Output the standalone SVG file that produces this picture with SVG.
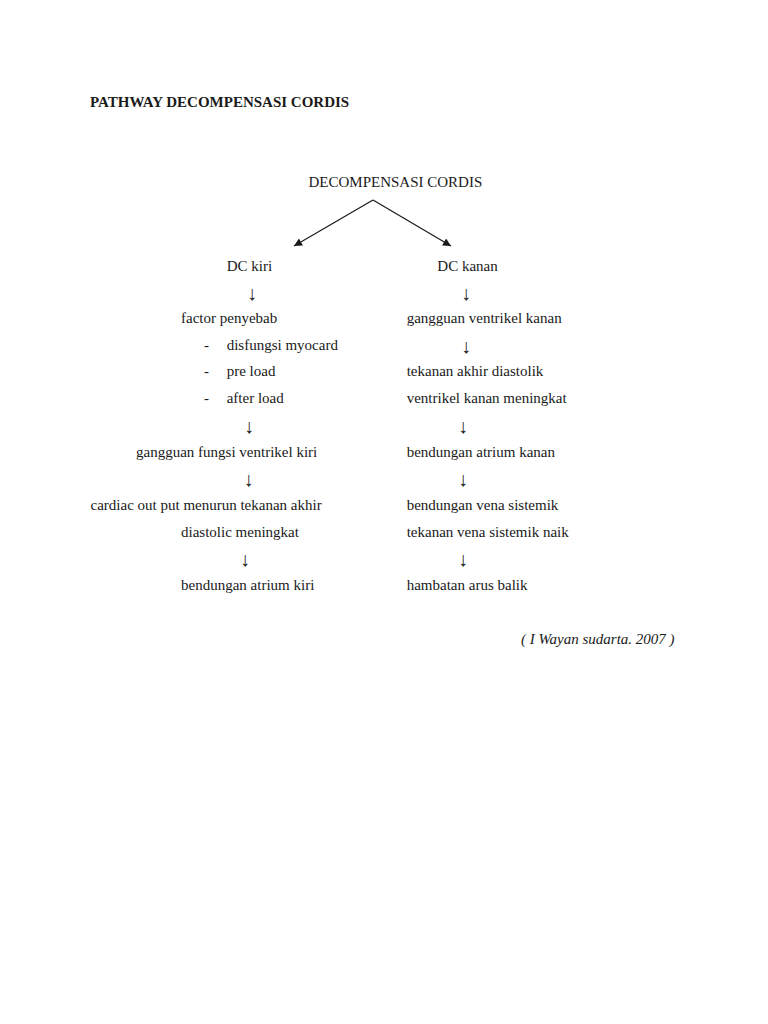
<svg xmlns="http://www.w3.org/2000/svg" width="768" height="1024" viewBox="0 0 768 1024">
<style>
text{font-family:"Liberation Serif","Times New Roman",serif;font-size:15px;fill:#1a1a1a}
.title{font-weight:bold}
.cite{font-style:italic}
.arr{text-anchor:middle;font-size:20px;fill:#222}
.conn{stroke:#1a1a1a;stroke-width:1.2;fill:none}
</style>
<defs>
<marker id="ah" viewBox="0 0 10 10" refX="10" refY="5" markerWidth="10" markerHeight="8" markerUnits="userSpaceOnUse" orient="auto">
<path d="M0,0 L10,5 L0,10 Z" fill="#1a1a1a"/>
</marker>
</defs>
<rect width="768" height="1024" fill="#fff"/>
<g id="title"><text class="title" x="90" y="107">PATHWAY DECOMPENSASI CORDIS</text></g>
<g id="root"><text x="308.5" y="187">DECOMPENSASI CORDIS</text></g>
<g id="connectors">
<line class="conn" x1="373" y1="200" x2="294" y2="246" marker-end="url(#ah)"/>
<line class="conn" x1="373" y1="200" x2="451" y2="246" marker-end="url(#ah)"/>
</g>
<g id="down-arrows">
<text class="arr" x="252" y="300">↓</text>
<text class="arr" x="466" y="300">↓</text>
<text class="arr" x="466" y="353">↓</text>
<text class="arr" x="249" y="433">↓</text>
<text class="arr" x="463" y="433">↓</text>
<text class="arr" x="248.5" y="486">↓</text>
<text class="arr" x="463" y="486">↓</text>
<text class="arr" x="245" y="566">↓</text>
<text class="arr" x="463" y="566">↓</text>
</g>
<g id="dc-kiri"><text x="226.7" y="270.5">DC kiri</text></g>
<g id="dc-kanan"><text x="437.3" y="270.5">DC kanan</text></g>
<g id="factor-penyebab">
<text x="181" y="323">factor penyebab</text>
<text x="204" y="349.5">-</text><text x="226.7" y="349.5">disfungsi myocard</text>
<text x="204" y="376">-</text><text x="226.7" y="376">pre load</text>
<text x="204" y="403">-</text><text x="226.7" y="403">after load</text>
</g>
<g id="gangguan-ventrikel-kanan"><text x="406.7" y="323">gangguan ventrikel kanan</text></g>
<g id="tekanan-akhir-diastolik">
<text x="406.7" y="376">tekanan akhir diastolik</text>
<text x="406.7" y="403">ventrikel kanan meningkat</text>
</g>
<g id="gangguan-fungsi-ventrikel-kiri"><text x="136" y="456.5">gangguan fungsi ventrikel kiri</text></g>
<g id="bendungan-atrium-kanan"><text x="406.7" y="456.5">bendungan atrium kanan</text></g>
<g id="cardiac-output">
<text x="90.5" y="510">cardiac out put menurun tekanan akhir</text>
<text x="181" y="536.5">diastolic meningkat</text>
</g>
<g id="bendungan-vena-sistemik">
<text x="406.7" y="510">bendungan vena sistemik</text>
<text x="406.7" y="536.5">tekanan vena sistemik naik</text>
</g>
<g id="bendungan-atrium-kiri"><text x="181" y="590">bendungan atrium kiri</text></g>
<g id="hambatan-arus-balik"><text x="406.7" y="590">hambatan arus balik</text></g>
<g id="citation"><text class="cite" x="521" y="644">( I Wayan sudarta. 2007 )</text></g>
</svg>
